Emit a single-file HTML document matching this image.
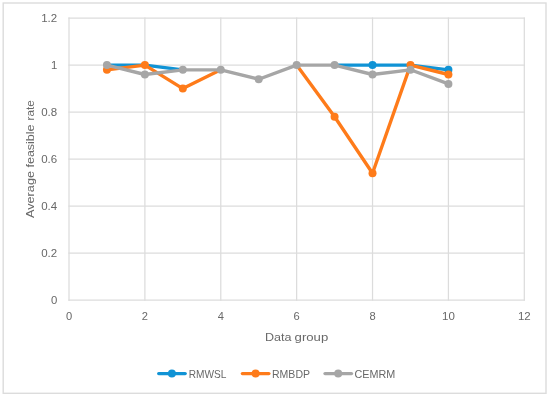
<!DOCTYPE html>
<html lang="en">
<head>
<meta charset="utf-8">
<title>Average feasible rate</title>
<style>
html,body{margin:0;padding:0;background:#fff;}
body{width:550px;height:397px;overflow:hidden;}
svg{display:block;}
text{font-family:"Liberation Sans",Arial,sans-serif;fill:#686868;}
</style>
</head>
<body>
<svg width="550" height="397" viewBox="0 0 550 397">
<rect x="0" y="0" width="550" height="397" fill="#ffffff"/>
<rect x="3.2" y="3" width="542.8" height="390.3" fill="none" stroke="#dcdcdc" stroke-width="1.4"/>
<g stroke="#dcdcdc" stroke-width="1.25" fill="none" stroke-linecap="square">
<line x1="69.00" y1="300.10" x2="524.30" y2="300.10"/>
<line x1="69.00" y1="253.10" x2="524.30" y2="253.10"/>
<line x1="69.00" y1="206.10" x2="524.30" y2="206.10"/>
<line x1="69.00" y1="159.10" x2="524.30" y2="159.10"/>
<line x1="69.00" y1="112.10" x2="524.30" y2="112.10"/>
<line x1="69.00" y1="65.10" x2="524.30" y2="65.10"/>
<line x1="69.00" y1="18.10" x2="524.30" y2="18.10"/>
<line x1="69.00" y1="18.10" x2="69.00" y2="300.10"/>
<line x1="144.88" y1="18.10" x2="144.88" y2="300.10"/>
<line x1="220.77" y1="18.10" x2="220.77" y2="300.10"/>
<line x1="296.65" y1="18.10" x2="296.65" y2="300.10"/>
<line x1="372.53" y1="18.10" x2="372.53" y2="300.10"/>
<line x1="448.42" y1="18.10" x2="448.42" y2="300.10"/>
<line x1="524.30" y1="18.10" x2="524.30" y2="300.10"/>
</g>
<g fill="none" stroke="#1093d5" stroke-width="3.35" stroke-linejoin="round" stroke-linecap="round"><polyline points="106.94,65.10 144.88,65.10 182.82,69.80"/><polyline points="334.59,65.10 372.53,65.10 410.47,65.10 448.42,69.80"/></g>
<g fill="#1093d5"><circle cx="372.53" cy="65.10" r="4"/><circle cx="448.42" cy="69.80" r="4"/></g>
<g fill="none" stroke="#fe7b1a" stroke-width="3.35" stroke-linejoin="round" stroke-linecap="round"><polyline points="106.94,69.80 144.88,65.10 182.82,88.60 220.77,69.80"/><polyline points="296.65,65.10 334.59,116.80 372.53,173.20 410.47,65.10 448.42,74.50"/></g>
<g fill="#fe7b1a"><circle cx="106.94" cy="69.80" r="4"/><circle cx="144.88" cy="65.10" r="4"/><circle cx="182.82" cy="88.60" r="4"/><circle cx="334.59" cy="116.80" r="4"/><circle cx="372.53" cy="173.20" r="4"/><circle cx="410.47" cy="65.10" r="4"/><circle cx="448.42" cy="74.50" r="4"/></g>
<g fill="none" stroke="#a6a6a6" stroke-width="3.35" stroke-linejoin="round" stroke-linecap="round"><polyline points="106.94,65.10 144.88,74.50 182.82,69.80 220.77,69.80 258.71,79.20 296.65,65.10 334.59,65.10 372.53,74.50 410.47,69.80 448.42,83.90"/></g>
<g fill="#a6a6a6"><circle cx="106.94" cy="65.10" r="4"/><circle cx="144.88" cy="74.50" r="4"/><circle cx="182.82" cy="69.80" r="4"/><circle cx="220.77" cy="69.80" r="4"/><circle cx="258.71" cy="79.20" r="4"/><circle cx="296.65" cy="65.10" r="4"/><circle cx="334.59" cy="65.10" r="4"/><circle cx="372.53" cy="74.50" r="4"/><circle cx="410.47" cy="69.80" r="4"/><circle cx="448.42" cy="83.90" r="4"/></g>
<g font-size="11.6" text-anchor="end">
<text x="57.2" y="304.05" textLength="6.3" lengthAdjust="spacingAndGlyphs">0</text>
<text x="57.2" y="257.05" textLength="16.0" lengthAdjust="spacingAndGlyphs">0.2</text>
<text x="57.2" y="210.05" textLength="16.0" lengthAdjust="spacingAndGlyphs">0.4</text>
<text x="57.2" y="163.05" textLength="16.0" lengthAdjust="spacingAndGlyphs">0.6</text>
<text x="57.2" y="116.05" textLength="16.0" lengthAdjust="spacingAndGlyphs">0.8</text>
<text x="57.2" y="69.05" textLength="6.3" lengthAdjust="spacingAndGlyphs">1</text>
<text x="57.2" y="22.05" textLength="16.0" lengthAdjust="spacingAndGlyphs">1.2</text>
</g>
<g font-size="11.6" text-anchor="middle">
<text x="69.00" y="320" textLength="6.2" lengthAdjust="spacingAndGlyphs">0</text>
<text x="144.88" y="320" textLength="6.2" lengthAdjust="spacingAndGlyphs">2</text>
<text x="220.77" y="320" textLength="6.2" lengthAdjust="spacingAndGlyphs">4</text>
<text x="296.65" y="320" textLength="6.2" lengthAdjust="spacingAndGlyphs">6</text>
<text x="372.53" y="320" textLength="6.2" lengthAdjust="spacingAndGlyphs">8</text>
<text x="448.42" y="320" textLength="12.8" lengthAdjust="spacingAndGlyphs">10</text>
<text x="524.30" y="320" textLength="12.8" lengthAdjust="spacingAndGlyphs">12</text>
</g>
<text y="340.9" font-size="11.6"><tspan x="265.00" textLength="26.50" lengthAdjust="spacingAndGlyphs">Data</tspan><tspan> </tspan><tspan x="294.60" textLength="33.60" lengthAdjust="spacingAndGlyphs">group</tspan></text>
<text transform="translate(33.5,218) rotate(-90)" font-size="11.6"><tspan x="0.00" textLength="47.00" lengthAdjust="spacingAndGlyphs">Average</tspan><tspan> </tspan><tspan x="50.50" textLength="43.00" lengthAdjust="spacingAndGlyphs">feasible</tspan><tspan> </tspan><tspan x="97.50" textLength="20.30" lengthAdjust="spacingAndGlyphs">rate</tspan></text>
<line x1="158.7" y1="373.6" x2="185.2" y2="373.6" stroke="#1093d5" stroke-width="3.35" stroke-linecap="round"/><circle cx="171.9" cy="373.6" r="4" fill="#1093d5"/><text x="188.8" y="377.7" font-size="10.6" textLength="37.7" lengthAdjust="spacingAndGlyphs">RMWSL</text>
<line x1="242.4" y1="373.6" x2="268.9" y2="373.6" stroke="#fe7b1a" stroke-width="3.35" stroke-linecap="round"/><circle cx="255.6" cy="373.6" r="4" fill="#fe7b1a"/><text x="272.0" y="377.7" font-size="10.6" textLength="38.0" lengthAdjust="spacingAndGlyphs">RMBDP</text>
<line x1="325.0" y1="373.6" x2="351.5" y2="373.6" stroke="#a6a6a6" stroke-width="3.35" stroke-linecap="round"/><circle cx="338.2" cy="373.6" r="4" fill="#a6a6a6"/><text x="354.5" y="377.7" font-size="10.6" textLength="40.8" lengthAdjust="spacingAndGlyphs">CEMRM</text>
</svg>
</body>
</html>
